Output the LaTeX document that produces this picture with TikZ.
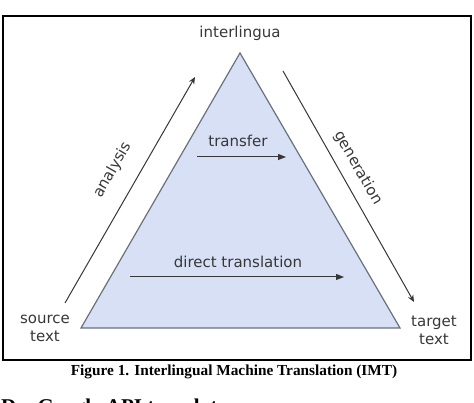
\documentclass[tikz,border=0pt]{standalone}
\usepackage{fontspec}
\setmainfont{Liberation Serif}
\newfontfamily\diagfont{DejaVu Sans}
\usetikzlibrary{arrows.meta}

\definecolor{triblue}{RGB}{216,224,246}
\definecolor{edgegray}{RGB}{105,112,125}
\definecolor{txtgray}{RGB}{55,55,55}

\tikzset{
    lbl/.style={font=\diagfont\fontsize{15}{18}\selectfont, text=txtgray, inner sep=0pt},
    flow/.style={draw=txtgray, line width=1pt, -{Stealth[length=7pt, width=6pt]}},
    pass/.style={draw=txtgray, line width=1pt, -{Triangle[length=8pt, width=6pt]}},
}

\begin{document}
\begin{tikzpicture}[x=1pt, y=1pt]
    \useasboundingbox (0,0) rectangle (474,403);
    \clip (0,0) rectangle (474,403);

    % Frame round the figure
    \draw[line width=2.4pt] (3,43) rectangle (471,387);

    % Triangle
    \coordinate (src) at (81,75);
    \coordinate (apex) at (240,350);
    \coordinate (tgt) at (400,75);
    \filldraw[fill=triblue, draw=edgegray, line width=1.2pt]
        (src) -- (apex) -- (tgt) -- cycle;

    % Corner labels
    \node[lbl] (interlingua) at (240,370) {interlingua};
    \node[lbl, align=center] (source) at (45,75) {source\\text};
    \node[lbl, align=center] (target) at (434,73) {target\\text};

    % LEFT: analysis
    \coordinate (anaS) at (65,100);
    \coordinate (anaE) at (195,326);
    \draw[flow] (anaS) -- (anaE);
    \node[lbl, rotate=60] (analysis) at (113,233) {analysis};

    % RIGHT: generation
    \coordinate (genS) at (283,332);
    \coordinate (genE) at (414,101);
    \draw[flow] (genS) -- (genE);
    \node[lbl, rotate=-60] (generation) at (358,235) {generation};

    % Inside: transfer and direct translation
    \node[lbl] (transfer) at (238,262) {transfer};
    \coordinate (trS) at (197,246);
    \coordinate (trE) at (286,246);
    \draw[pass] (trS) -- (trE);

    \node[lbl] (direct) at (238,141) {direct translation};
    \coordinate (drS) at (130,126);
    \coordinate (drE) at (344,126);
    \draw[pass] (drS) -- (drE);

    % Caption
    \node[font=\bfseries\fontsize{15.3}{18}\selectfont, inner sep=0pt] (caption)
        at (234,31) {Figure 1. Interlingual Machine Translation (IMT)};

    % Next heading, cut by the page edge
    \node[font=\bfseries\fontsize{21}{25}\selectfont, anchor=base west, inner sep=0pt]
        (nexthead) at (1,-11) {D.\hspace{16pt}Google API translator};
\end{tikzpicture}
\end{document}
